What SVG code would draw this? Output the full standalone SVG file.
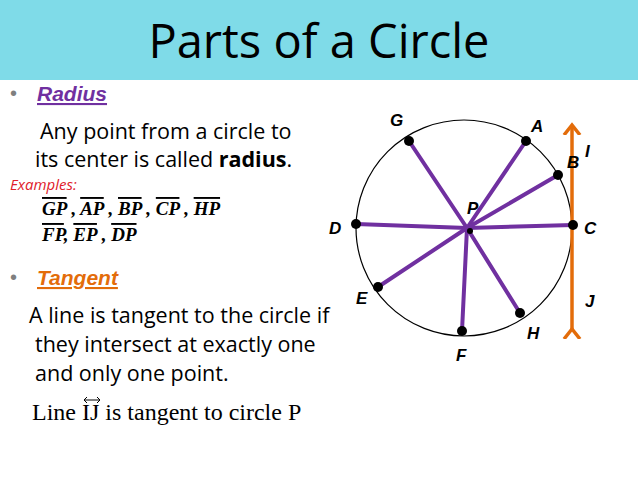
<svg xmlns="http://www.w3.org/2000/svg" width="638" height="478" viewBox="0 0 638 478">
<style>
.t{font-family:"Open Sans","Liberation Sans",sans-serif;font-size:21.5px;fill:#000}
.lb{font-family:"Liberation Sans",sans-serif;font-size:17px;font-weight:bold;font-style:italic;fill:#000}
.ex{font-family:"Liberation Serif",serif;font-size:19px;font-weight:bold;font-style:italic}
.r{stroke:#7030a0;stroke-width:4;stroke-linecap:round}
.ol{stroke:#000;stroke-width:1.2;fill:none}
</style>
<defs>
<marker id="ah" markerWidth="20" markerHeight="20" refX="10" refY="10" orient="auto" markerUnits="userSpaceOnUse"><path d="M0,2 L10,10 L0,18" fill="none" stroke="#e36c0a" stroke-width="3.5"/></marker>
</defs>
<rect width="638" height="478" fill="#fff"/>
<rect width="638" height="80" fill="#7fdbe8"/>
<text x="319" y="58" text-anchor="middle" font-family="Open Sans,Liberation Sans,sans-serif" font-size="47" fill="#000">Parts of a Circle</text>
<g id="text-left">
<text x="10" y="100" font-family="Liberation Sans,sans-serif" font-size="20" fill="#7f7f7f">•</text>
<text x="37" y="101" font-family="Liberation Sans,sans-serif" font-size="21" font-weight="bold" font-style="italic" fill="#7030a0" text-decoration="underline">Radius</text>
<text x="40" y="139" class="t">Any point from a circle to</text>
<text x="35" y="167" class="t">its center is called <tspan font-weight="bold">radius</tspan>.</text>
<text x="10" y="190" font-family="Open Sans,Liberation Sans,sans-serif" font-size="15" font-style="italic" fill="#e0202a">Examples:</text>
<text x="42" y="215" class="ex"><tspan text-decoration="overline">GP</tspan> , <tspan text-decoration="overline">AP</tspan> , <tspan text-decoration="overline">BP</tspan>  , <tspan text-decoration="overline">CP</tspan> , <tspan text-decoration="overline">HP</tspan></text>
<text x="42" y="241" class="ex"><tspan text-decoration="overline">FP</tspan>, <tspan text-decoration="overline">EP</tspan>  , <tspan text-decoration="overline">DP</tspan></text>
<text x="10" y="284" font-family="Liberation Sans,sans-serif" font-size="20" fill="#7f7f7f">•</text>
<text x="37" y="285" font-family="Liberation Sans,sans-serif" font-size="21" font-weight="bold" font-style="italic" fill="#e36c0a" text-decoration="underline">Tangent</text>
<text x="29" y="323" class="t">A line is tangent to the circle if</text>
<text x="35" y="352" class="t">they intersect at exactly one</text>
<text x="35" y="381" class="t">and only one point.</text>
<text x="32" y="420" font-family="Liberation Serif,serif" font-size="24" fill="#000">Line IJ is tangent to circle P</text>
<path d="M84,400 H100 M87,397 L84,400 L87,403 M97,397 L100,400 L97,403" stroke="#000" stroke-width="1" fill="none"/>
</g>
<g id="circle">
<circle cx="464" cy="228" r="108" class="ol"/>
</g>
<g id="connectors">
<line x1="467" y1="228" x2="409" y2="141" class="r"/>
<line x1="467" y1="228" x2="526" y2="141" class="r"/>
<line x1="467" y1="228" x2="558" y2="175" class="r"/>
<line x1="467" y1="228" x2="356" y2="224" class="r"/>
<line x1="467" y1="228" x2="573" y2="225" class="r"/>
<line x1="467" y1="228" x2="378" y2="287" class="r"/>
<line x1="467" y1="228" x2="462" y2="331" class="r"/>
<line x1="467" y1="228" x2="520" y2="313" class="r"/>
<line x1="572" y1="329" x2="572" y2="125" stroke="#e36c0a" stroke-width="3.5" marker-end="url(#ah)" marker-start="url(#ah)"/>
</g>
<g id="points" fill="#000">
<circle cx="409" cy="141" r="5"/><circle cx="526" cy="141" r="5"/><circle cx="558" cy="175" r="5"/>
<circle cx="356" cy="224" r="5"/><circle cx="573" cy="225" r="5"/><circle cx="378" cy="287" r="5"/>
<circle cx="462" cy="331" r="5"/><circle cx="520" cy="313" r="5"/><circle cx="470" cy="231" r="3"/>
</g>
<g id="labels">
<text x="390" y="126" class="lb">G</text>
<text x="531" y="132" class="lb">A</text>
<text x="567" y="168" class="lb">B</text>
<text x="585" y="157" class="lb">I</text>
<text x="467" y="214" class="lb">P</text>
<text x="329" y="234" class="lb">D</text>
<text x="584" y="234" class="lb">C</text>
<text x="356" y="304" class="lb">E</text>
<text x="585" y="307" class="lb">J</text>
<text x="527" y="339" class="lb">H</text>
<text x="456" y="361" class="lb">F</text>
</g>
</svg>
